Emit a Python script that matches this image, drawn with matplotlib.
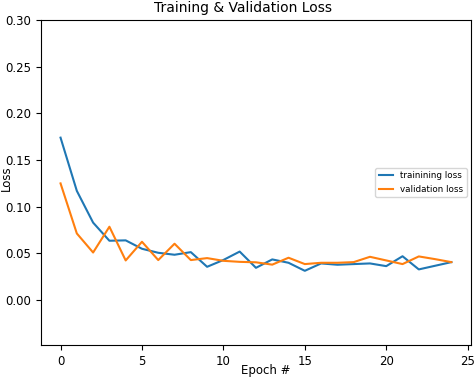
import matplotlib
matplotlib.use("Agg")
import matplotlib.pyplot as plt

epochs = list(range(25))
train_loss = [0.174, 0.117, 0.083, 0.0636, 0.064, 0.055, 0.0507, 0.0486, 0.0514, 0.0357,
              0.043, 0.052, 0.0346, 0.0436, 0.040, 0.0314, 0.0393, 0.0379, 0.0386, 0.0393,
              0.0364, 0.047, 0.0329, 0.0368, 0.0407]
val_loss = [0.125, 0.0714, 0.051, 0.0786, 0.0425, 0.0625, 0.0429, 0.0604, 0.0429, 0.045,
            0.0421, 0.041, 0.0405, 0.038, 0.0454, 0.0386, 0.040, 0.040, 0.0407, 0.0464,
            0.0425, 0.0386, 0.0468, 0.0439, 0.0407]

fig = plt.figure(figsize=(4.74, 3.77), dpi=100)
ax = fig.add_axes([0.0865, 0.085, 0.907, 0.862])
ax.plot(epochs, train_loss, label="trainining loss")
ax.plot(epochs, val_loss, label="validation loss")
ax.set_ylim(-0.048, 0.30)
ax.set_title("Training & Validation Loss", fontsize=10, x=0.469, pad=6)
ax.set_xlabel("Epoch #", fontsize=8.5)
ax.set_ylabel("Loss", fontsize=8.5)
ax.xaxis.set_label_coords(0.522, -0.058)
ax.yaxis.set_label_coords(-0.066, 0.514)
ax.tick_params(labelsize=8.5)
ax.legend(loc="center right", fontsize=6.3, handlelength=1.6)
fig.savefig("out.png", dpi=100)
